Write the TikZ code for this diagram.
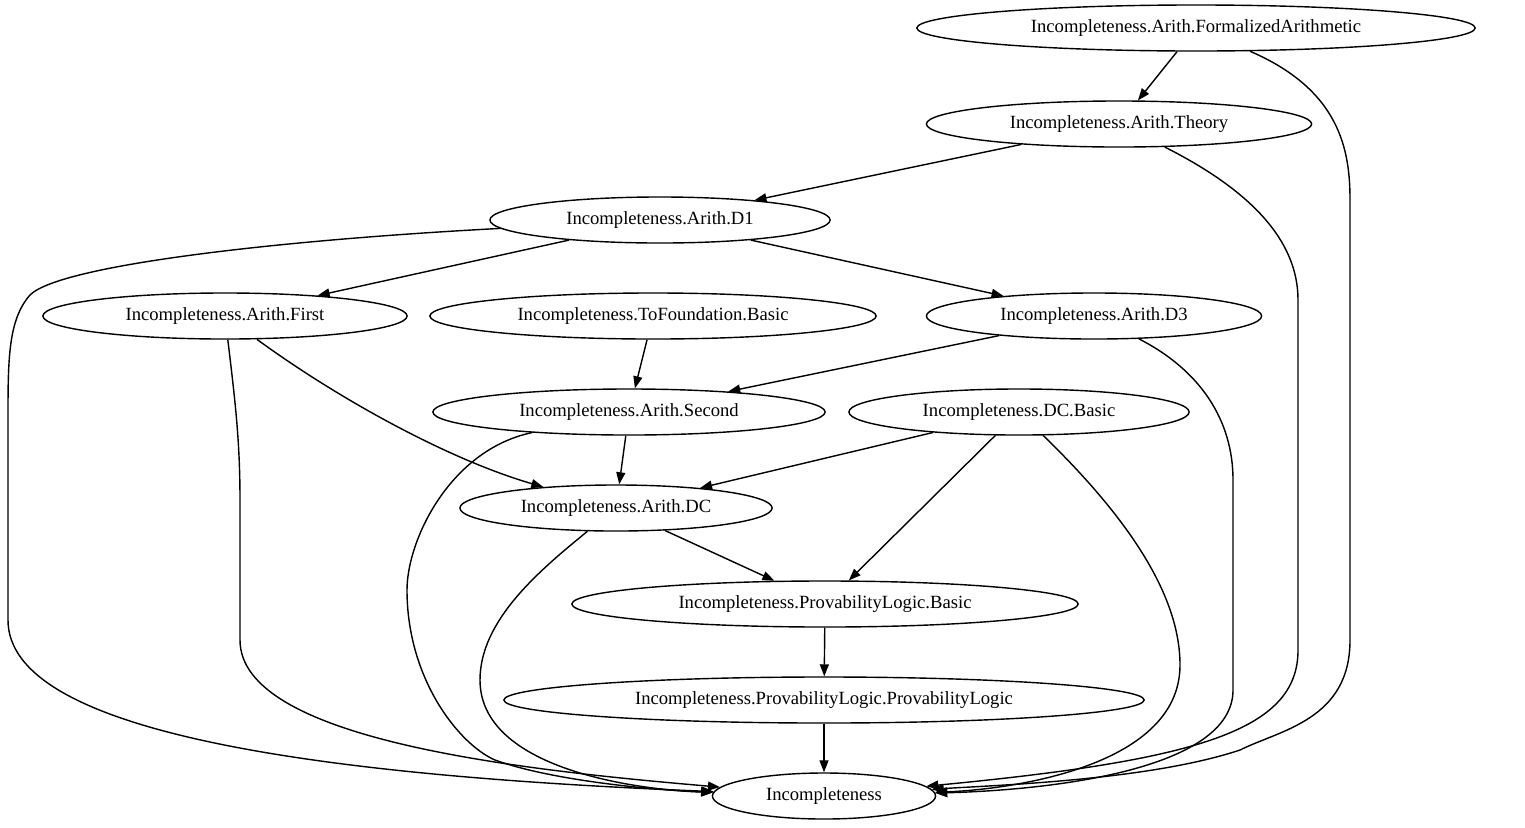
\documentclass[tikz,border=0pt]{standalone}
\usepackage{fontspec}
\setmainfont{Liberation Serif}
\usetikzlibrary{shapes.geometric,arrows.meta}
\begin{document}
\begin{tikzpicture}[x=0.01cm,y=-0.01cm,
    mod/.style={ellipse,draw,inner sep=0pt,minimum height=0.46cm,
                font=\fontsize{5.3}{6.3}\selectfont},
    edge/.style={-{Triangle[length=0.12cm,width=0.09cm]},thin}]
\useasboundingbox (0,0) rectangle (1525,827);
% modules
\node[mod,minimum width=5.58cm] (fa) at (1196,28) {Incompleteness.Arith.FormalizedArithmetic};
\node[mod,minimum width=3.85cm] (theory) at (1119,124) {Incompleteness.Arith.Theory};
\node[mod,minimum width=3.40cm] (d1) at (660,220) {Incompleteness.Arith.D1};
\node[mod,minimum width=3.64cm] (first) at (225,316) {Incompleteness.Arith.First};
\node[mod,minimum width=4.46cm] (tof) at (653,316) {Incompleteness.ToFoundation.Basic};
\node[mod,minimum width=3.35cm] (d3) at (1094,316) {Incompleteness.Arith.D3};
\node[mod,minimum width=3.92cm] (second) at (629,412) {Incompleteness.Arith.Second};
\node[mod,minimum width=3.40cm] (dcbasic) at (1019,412) {Incompleteness.DC.Basic};
\node[mod,minimum width=3.12cm] (dc) at (616,508) {Incompleteness.Arith.DC};
\node[mod,minimum width=5.06cm] (plbasic) at (825,604) {Incompleteness.ProvabilityLogic.Basic};
\node[mod,minimum width=6.40cm] (plpl) at (824,700) {Incompleteness.ProvabilityLogic.ProvabilityLogic};
\node[mod,minimum width=2.23cm] (inc) at (824,796) {Incompleteness};
% straight edges
\draw[edge] (fa) -- (theory);
\draw[edge] (theory) -- (d1);
\draw[edge] (d1) -- (first);
\draw[edge] (d1) -- (d3);
\draw[edge] (tof) -- (second);
\draw[edge] (d3) -- (second);
\draw[edge] (second) -- (dc);
\draw[edge] (dcbasic) -- (dc);
\draw[edge] (dcbasic) -- (plbasic);
\draw[edge] (dc) -- (plbasic);
\draw[edge] (plbasic) -- (plpl);
\draw[edge] (plpl) -- (inc);
\draw[edge] (first) .. controls (340,400) and (450,460) .. (dc);
% long edges into Incompleteness
\draw[edge] (fa) .. controls (1340,90) and (1350,150) .. (1350,200)
  -- (1350,640) .. controls (1350,720) and (1280,730) .. (1240,750)
  .. controls (1150,780) and (1000,785) .. (inc);
\draw[edge] (theory) .. controls (1250,190) and (1298,240) .. (1298,300)
  -- (1298,650) .. controls (1298,730) and (1200,760) .. (inc);
\draw[edge] (d1) .. controls (280,240) and (60,265) .. (30,295)
  .. controls (8,320) and (8,360) .. (8,420) -- (8,620)
  .. controls (8,730) and (300,775) .. (inc);
\draw[edge] (first) .. controls (235,400) and (240,440) .. (240,500)
  -- (240,640) .. controls (240,740) and (520,770) .. (inc);
\draw[edge] (d3) .. controls (1200,370) and (1233,420) .. (1233,480)
  -- (1233,690) .. controls (1233,770) and (1050,790) .. (inc);
\draw[edge] (second) .. controls (450,450) and (407,540) .. (407,590)
  .. controls (407,680) and (460,745) .. (495,760) .. controls (550,780) and (650,790) .. (inc);
\draw[edge] (dcbasic) .. controls (1120,510) and (1180,590) .. (1180,665)
  .. controls (1180,770) and (1000,790) .. (inc);
\draw[edge] (dc) .. controls (540,570) and (480,620) .. (480,680)
  .. controls (480,770) and (640,790) .. (inc);
\end{tikzpicture}
\end{document}
